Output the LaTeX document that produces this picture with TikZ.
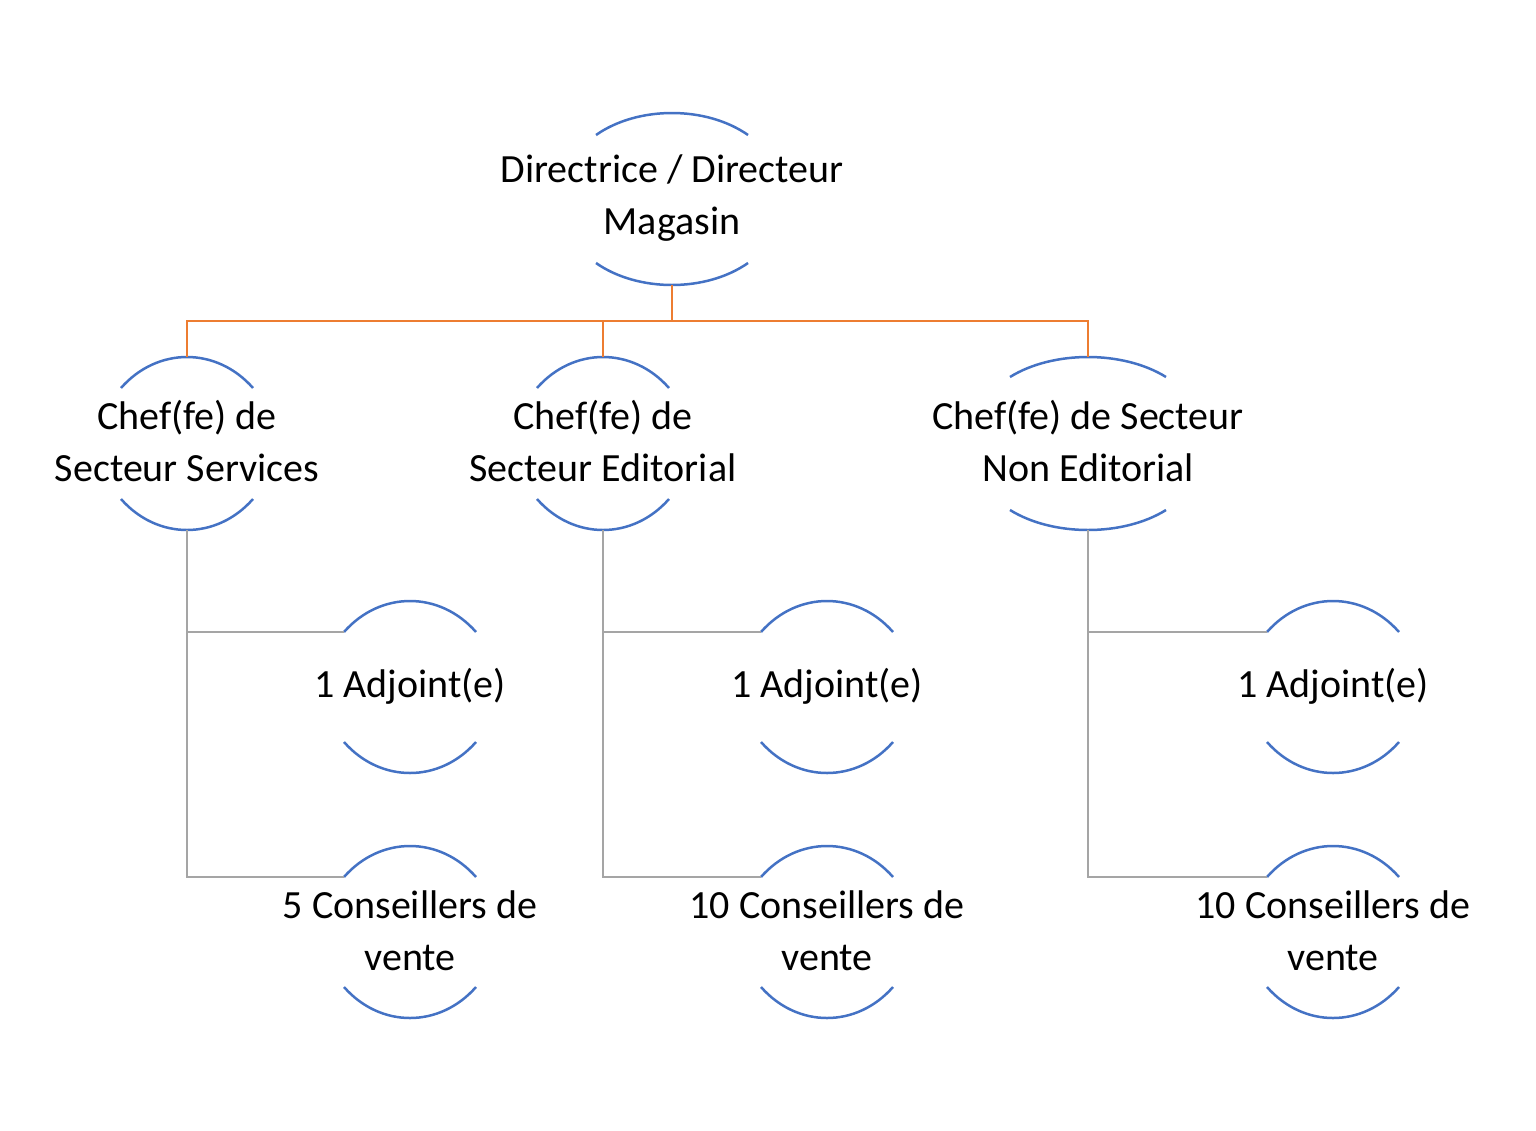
\documentclass[tikz,border=0pt]{standalone}
\usepackage{fontspec}
\setmainfont{Carlito}
\begin{document}
\newcommand{\orgnode}[8]{%
  \node[txt] (#1) at (#2,#3) {#8};
  \pgfmathsetmacro{\oXl}{#2-#6}\pgfmathsetmacro{\oXr}{#2+#6}
  \pgfmathsetmacro{\oCl}{#2-0.45*#6}\pgfmathsetmacro{\oCr}{#2+0.45*#6}
  \pgfmathsetmacro{\oTa}{#4+#7}\pgfmathsetmacro{\oTc}{#4-#7/3}
  \pgfmathsetmacro{\oBa}{#5-#7}\pgfmathsetmacro{\oBc}{#5+#7/3}
  \coordinate (#1-tl) at (\oXl,\oTa);
  \coordinate (#1-tc) at (#2,#4);
  \coordinate (#1-bc) at (#2,#5);
  \draw[arcline] (\oXl,\oTa) .. controls (\oCl,\oTc) and (\oCr,\oTc) .. (\oXr,\oTa);
  \draw[arcline] (\oXl,\oBa) .. controls (\oCl,\oBc) and (\oCr,\oBc) .. (\oXr,\oBa);
}
\begin{tikzpicture}[x=1pt,y=-1pt,
  txt/.style={align=center,font=\fontsize{40}{52}\selectfont,inner sep=0},
  arcline/.style={draw={rgb,255:red,68;green,114;blue,196},line width=2.5pt},
  orange/.style={draw={rgb,255:red,237;green,125;blue,49},line width=2.5pt},
  grayl/.style={draw={rgb,255:red,165;green,165;blue,165},line width=2.5pt}]
\useasboundingbox (0,0) rectangle (1536,1130);
\orgnode{top}{672}{198}{113}{285}{76}{22}{Directrice / Directeur\\Magasin}
\orgnode{c1}{187}{441}{357}{530}{66}{31}{Chef(fe) de\\Secteur Services}
\orgnode{c2}{603}{441}{357}{530}{66}{31}{Chef(fe) de\\Secteur Editorial}
\orgnode{c3}{1088}{441}{357}{530}{78}{20}{Chef(fe) de Secteur\\Non Editorial}
\orgnode{a1}{410}{686}{601}{773}{66}{31}{1 Adjoint(e)}
\orgnode{a2}{827}{686}{601}{773}{66}{31}{1 Adjoint(e)}
\orgnode{a3}{1333}{686}{601}{773}{66}{31}{1 Adjoint(e)}
\orgnode{v1}{410}{931}{846}{1018}{66}{31}{5 Conseillers de\\vente}
\orgnode{v2}{827}{931}{846}{1018}{66}{31}{10 Conseillers de\\vente}
\orgnode{v3}{1333}{931}{846}{1018}{66}{31}{10 Conseillers de\\vente}
\coordinate (hub) at (672,321);
\draw[orange] (top-bc) -- (hub);
\foreach \c in {c1,c2,c3}{\draw[orange] (hub) -| (\c-tc);}
\foreach \c/\a/\v in {c1/a1/v1,c2/a2/v2,c3/a3/v3}{
  \draw[grayl] (\c-bc) |- (\v-tl);
  \draw[grayl] (\c-bc) |- (\a-tl);
}
\end{tikzpicture}
\end{document}
